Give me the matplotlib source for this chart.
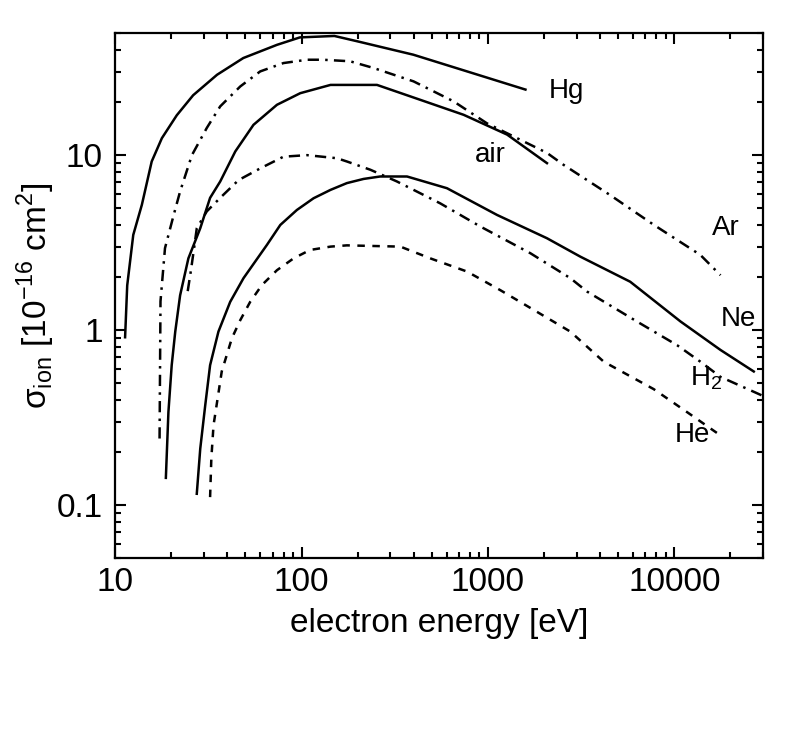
import numpy as np
import matplotlib
matplotlib.use('Agg')
import matplotlib.pyplot as plt
from matplotlib.ticker import LogLocator, NullFormatter, FixedLocator, FixedFormatter

plt.rcParams['font.family'] = ['Liberation Sans', 'DejaVu Sans']
plt.rcParams['mathtext.fontset'] = 'custom'
plt.rcParams['mathtext.rm'] = 'Liberation Sans'

# ionisation cross sections (eV, 1e-16 cm^2)
hg_E = [11.3, 11.6, 12.5, 13.9, 15.7, 17.8, 21.4, 26.2, 35.2, 48.7, 73.8, 98, 150, 198, 398, 773, 1590]
hg_s = [0.91, 1.8, 3.5, 5.2, 9.2, 12.5, 16.9, 22.0, 28.8, 35.9, 42.7, 47.1, 48, 44.8, 37.5, 30.1, 23.7]

ar_E = [17.3, 17.5, 18.5, 20.6, 22.3, 25.8, 31.0, 36.6, 46.9, 60, 80, 107, 130, 182, 243, 399,
        654, 988, 2074, 2547, 4540, 7750, 13800, 17700]
ar_s = [0.24, 1.46, 2.94, 4.55, 6.2, 10.0, 14.3, 19.0, 24.7, 30.1, 33.6, 35.1, 35.1, 34.4, 31.5, 26.4,
        20.3, 15.2, 10.3, 8.8, 5.9, 4.0, 2.69, 2.06]

air_E = [18.7, 19.3, 20.1, 21.0, 22.3, 24.7, 28.6, 32.3, 36.6, 44.1, 55.2, 73.8, 98.4, 143, 254,
         434, 741, 1268, 2074]
air_s = [0.143, 0.34, 0.63, 0.98, 1.58, 2.57, 3.82, 5.7, 7.07, 10.5, 14.9, 19.4, 22.6, 25.2, 25.2,
         20.7, 17.0, 13.1, 9.0]

h2_E = [24.5, 25.5, 26.5, 27.4, 31.0, 36.6, 45.9, 60, 80, 107, 155, 175, 234, 325, 555, 910, 1690,
        2770, 3405, 6300, 10350, 13800, 17700, 30000]
h2_s = [1.67, 2.2, 2.94, 3.82, 4.77, 5.7, 7.2, 8.4, 9.8, 10.0, 9.6, 9.2, 8.25, 7.07, 5.3, 3.91, 2.75,
        1.98, 1.66, 1.12, 0.82, 0.66, 0.54, 0.42]

ne_E = [27.4, 28.6, 30.4, 32.3, 35.8, 41.4, 48.8, 65.2, 76.9, 94.4, 116, 143, 175, 215, 264, 368,
        603, 1120, 2074, 3130, 5800, 10800, 17700, 26700]
ne_s = [0.116, 0.21, 0.37, 0.63, 0.98, 1.45, 1.98, 3.07, 3.99, 4.86, 5.67, 6.33, 6.92, 7.31, 7.55,
        7.55, 6.47, 4.55, 3.35, 2.63, 1.89, 1.12, 0.77, 0.58]

he_E = [32.3, 32.8, 33.7, 37.3, 42.3, 46.9, 53, 61.3, 73.8, 90.6, 111, 143, 175, 339, 491, 773,
        1167, 1837, 2770, 4180, 7750, 11700, 17700]
he_s = [0.111, 0.185, 0.286, 0.58, 0.90, 1.14, 1.45, 1.81, 2.2, 2.57, 2.87, 3.0, 3.05, 3.0, 2.57,
        2.16, 1.69, 1.27, 0.98, 0.66, 0.46, 0.34, 0.25]

gas_names = ['Hg', 'air', 'Ar', 'Ne', 'H$_2$', 'He']
label_E = [2640, 1030, 19000, 22100, 14900, 12500]
label_s = [23.2, 10.0, 3.82, 1.15, 0.53, 0.25]

x_ticks = [10, 100, 1000, 10000]
y_ticks = [0.1, 1, 10]

solid = '-'
dashdot = (0, (4.5, 2.5, 1, 2.5))
dashed = (0, (3, 3))

fig = plt.figure(figsize=(8, 7.3), dpi=100)
ax = fig.add_axes([0.144, 0.236, 0.81, 0.719])

lw = 1.8
ax.plot(hg_E, hg_s, color='k', lw=lw, linestyle=solid)
ax.plot(ar_E, ar_s, color='k', lw=lw, linestyle=dashdot)
ax.plot(air_E, air_s, color='k', lw=lw, linestyle=solid)
ax.plot(h2_E, h2_s, color='k', lw=lw, linestyle=dashdot)
ax.plot(ne_E, ne_s, color='k', lw=lw, linestyle=solid)
ax.plot(he_E, he_s, color='k', lw=lw, linestyle=dashed)

for name, ex, sy in zip(gas_names, label_E, label_s):
    ax.text(ex, sy, name, fontsize=20, ha='center', va='center')

ax.set_xscale('log')
ax.set_yscale('log')
ax.set_xlim(10, 30000)
ax.set_ylim(0.05, 50)

ax.xaxis.set_major_locator(FixedLocator(x_ticks))
ax.xaxis.set_major_formatter(FixedFormatter([str(v) for v in x_ticks]))
ax.yaxis.set_major_locator(FixedLocator(y_ticks))
ax.yaxis.set_major_formatter(FixedFormatter(['0.1', '1', '10']))
ax.xaxis.set_minor_locator(LogLocator(base=10, subs=np.arange(2, 10)))
ax.yaxis.set_minor_locator(LogLocator(base=10, subs=np.arange(2, 10)))
ax.xaxis.set_minor_formatter(NullFormatter())
ax.yaxis.set_minor_formatter(NullFormatter())

ax.tick_params(which='both', direction='in', top=True, right=True, width=1.5)
ax.tick_params(which='major', length=8, labelsize=24)
ax.tick_params(which='minor', length=4)
ax.tick_params(axis='x', which='major', pad=7)
ax.tick_params(axis='y', which='major', pad=9)
for sp in ax.spines.values():
    sp.set_linewidth(1.6)

ax.set_xlabel('electron energy [eV]', fontsize=24, labelpad=7)
ax.set_ylabel(r'σ$_{\mathregular{ion}}$ [10$^{\mathregular{-16}}$ cm$^{\mathregular{2}}$]',
              fontsize=24, labelpad=0)

plt.savefig('out.png', dpi=100)
plt.close()
